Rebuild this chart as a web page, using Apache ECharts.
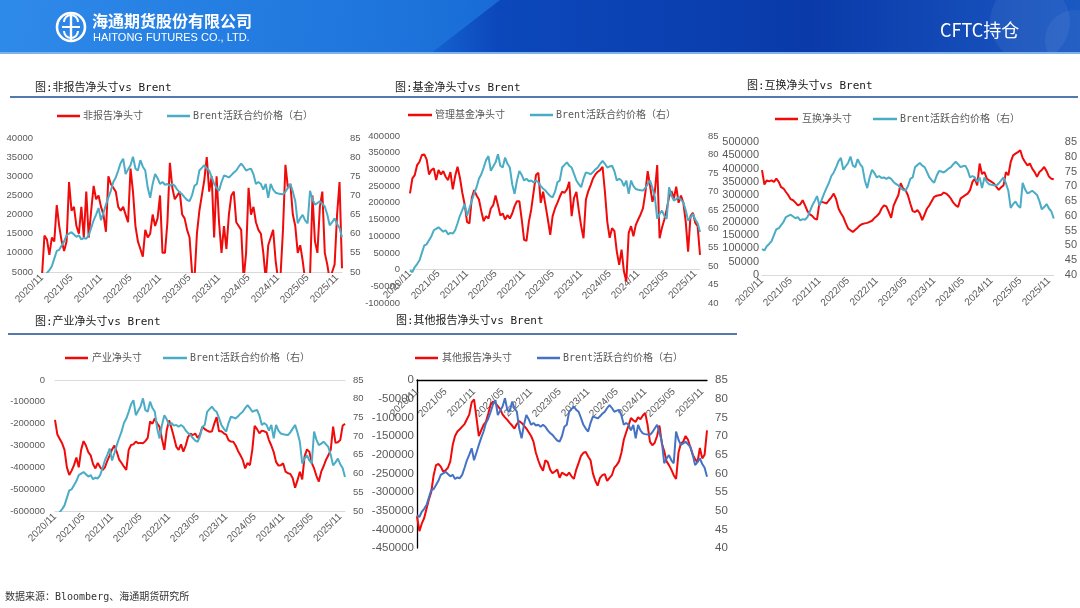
<!DOCTYPE html>
<html><head><meta charset="utf-8">
<script src="https://cdn.jsdelivr.net/npm/echarts@6/dist/echarts.min.js"></script>
<style>html,body{margin:0;padding:0;background:#fff}#c{width:1080px;height:608px}</style>
</head><body><div id="c"></div>
<script>
// ---- categories (half-month steps) ----
const months = ['2020/11','2020/12',
 '2021/01','2021/02','2021/03','2021/04','2021/05','2021/06','2021/07','2021/08','2021/09','2021/10','2021/11','2021/12',
 '2022/01','2022/02','2022/03','2022/04','2022/05','2022/06','2022/07','2022/08','2022/09','2022/10','2022/11','2022/12',
 '2023/01','2023/02','2023/03','2023/04','2023/05','2023/06','2023/07','2023/08','2023/09','2023/10','2023/11','2023/12',
 '2024/01','2024/02','2024/03','2024/04','2024/05','2024/06','2024/07','2024/08','2024/09','2024/10','2024/11','2024/12',
 '2025/01','2025/02','2025/03','2025/04','2025/05','2025/06','2025/07','2025/08','2025/09','2025/10','2025/11','2025/12'];

// ---- Brent active contract price (right axis) ----
const brent = [48.8,48.3,49.7,50.5,51.5,53.5,55.5,55.8,56.9,58,
 59.6,60,60.4,59.8,59.2,59.6,58.5,58.9,58.7,59.6,
 61.5,63.5,65,66.7,63.5,65.5,67.6,69.5,71.2,73.5,
 74.7,76.5,78.5,79.6,75.6,76.8,77.9,80.1,77,76.5,
 79.2,77.5,76.5,72,69.4,73,75.6,74.5,73,73.5,
 72.8,73,72.5,73,72.5,71.5,70.8,70.3,69.5,68.8,
 68.5,70,72.5,73,76.5,77.2,77.9,77,76.5,74.8,
 73,72,71.2,73.5,75.2,75,74.7,75.3,76,76.5,
 77.5,78.3,77.5,76.5,76.8,77,75.5,73,73.5,73,
 71.5,73,69.4,73,71.5,70.7,70.5,70.4,70.3,71,
 72,73,71,68.5,62.7,64,64.9,63.5,62.7,71.2,
 69,67.6,68,68.5,67.8,67.1,65,62.2,63,64,
 62.5,61.5,59.1];

// ---- net positions, in thousand contracts ----
const nonReportK = [4,14.5,13.5,9.5,14,13,22.5,17,13,10.5,
 13,28.5,21,22,17,15,22,14,26,14,
 21,27.5,24,25,22,20,15.5,30,28,27,
 26,22,21,22,20,18,32,26,17,13,
 11,9,16,14,15,20,17,19,25,10,
 10,18,33.5,27,24,25,26,20,19,16,
 14,5,3,15,21,25,29,35,26,30,
 14,30,18,10,17,11,20,25,26,18,
 17,16,3,10,27,20,22,18,16,15,
 10,3,12,14,16,8,3,4,16,33,
 27,28,20,17,10,12,8,3,3,4,
 25,13,10,22,26,10,7,3,5,7,
 20,28.5,6];

const managedMoneyK = [228,273,283,313,323,343,345,330,285,298,
 303,268,298,285,295,278,268,292,240,280,
 308,275,230,195,143,138,215,238,222,210,
 175,145,160,153,183,193,222,193,162,168,
 150,163,153,168,190,205,205,150,89,86,
 143,180,233,283,290,200,233,193,150,104,
 160,183,200,218,233,230,240,263,160,215,
 233,178,130,94,210,235,253,273,285,293,
 298,308,233,143,95,124,115,54,14,60,
 -6,-35,110,130,100,134,150,165,183,230,
 295,250,203,233,313,94,125,150,180,218,
 235,213,248,200,222,200,143,54,160,170,
 140,130,44];

const swapK = [394,340,356,352,356,350,362,350,330,325,
 312,300,285,281,272,262,266,281,262,240,
 228,222,212,208,270,275,272,269,281,292,
 306,285,250,232,218,195,175,168,162,170,
 178,187,192,194,196,200,204,214,222,231,
 250,262,258,237,215,260,281,300,345,325,
 319,300,269,240,237,244,231,206,228,250,
 262,278,294,298,300,302,310,306,298,287,
 272,262,256,287,294,300,306,319,350,362,
 337,419,380,387,362,356,350,344,331,320,
 330,337,387,375,425,450,456,462,469,440,
 425,412,419,400,387,369,387,395,406,390,
 370,362,360];

const producerK = [-183,-250,-270,-290,-320,-400,-435,-415,-390,-355,
 -400,-320,-280,-300,-330,-345,-385,-405,-380,-400,
 -412,-400,-370,-345,-318,-300,-330,-365,-380,-397,
 -412,-320,-298,-295,-282,-290,-288,-290,-280,-265,
 -190,-200,-176,-200,-215,-270,-320,-230,-185,-220,
 -260,-305,-320,-295,-328,-300,-260,-246,-252,-245,
 -265,-250,-214,-225,-232,-237,-236,-200,-170,-235,
 -235,-244,-250,-275,-282,-283,-300,-325,-345,-366,
 -405,-380,-390,-320,-210,-225,-244,-232,-235,-240,
 -275,-300,-330,-375,-392,-390,-382,-420,-427,-430,
 -450,-493,-460,-420,-455,-350,-318,-328,-380,-405,
 -440,-465,-420,-395,-366,-345,-320,-214,-288,-285,
 -275,-210,-200];

const otherReportK = [-365,-405,-385,-370,-345,-320,-300,-255,-228,-225,
 -232,-245,-242,-235,-218,-175,-150,-138,-132,-125,
 -118,-105,-92,-60,-52,-100,-150,-135,-120,-112,
 -90,-65,-58,-62,-70,-78,-92,-100,-107,-115,
 -122,-130,-118,-110,-115,-122,-130,-140,-150,-165,
 -195,-215,-232,-243,-215,-220,-240,-250,-245,-240,
 -262,-248,-252,-256,-248,-258,-265,-240,-222,-203,
 -195,-193,-205,-215,-250,-270,-283,-262,-255,-252,
 -270,-262,-255,-235,-228,-218,-195,-160,-140,-122,
 -102,-108,-112,-100,-105,-95,-88,-120,-165,-175,
 -168,-150,-122,-170,-190,-218,-228,-240,-255,-265,
 -195,-170,-165,-150,-160,-180,-200,-212,-220,-182,
 -210,-200,-135];

// ---- texts ----
const panelTitles = ['图:非报告净头寸vs Brent','图:基金净头寸vs Brent','图:互换净头寸vs Brent','图:产业净头寸vs Brent','图:其他报告净头寸vs Brent'];
const posNames = ['非报告净头寸','管理基金净头寸','互换净头寸','产业净头寸','其他报告净头寸'];
const brentName = 'Brent活跃合约价格（右）';
const leftAxes = [[5000,40000,5000],[-100000,400000,50000],[0,500000,50000],[-600000,0,100000],[-450000,0,50000]];
const rightAxes = [[50,85,5],[40,85,5],[40,85,5],[50,85,5],[40,85,5]];
const positions = [nonReportK, managedMoneyK, swapK, producerK, otherReportK];

const dates = [];
months.forEach((m,k)=>{ dates.push(m+'-1'); if(k<months.length-1) dates.push(m+'-2'); });

// ---- layout ----
const grids = [
  {left:42, top:138, width:300, height:134},
  {left:410, top:136, width:290, height:167},
  {left:762, top:142, width:295, height:133},
  {left:55, top:380, width:290, height:131},
  {left:417, top:380, width:290, height:168},
  {left:410, top:136, width:290, height:132},  // label carrier: panel 2 axis crosses at 0
  {left:417, top:370, width:290, height:10}    // label carrier: panel 5 axis crosses at 0 (top)
];
const yLabelSize = [9.5,9.5,11,9.5,11.5];
const yLabelMarginL = [9,10,3,10,3];
const RED = '#f00a0a', TEAL = '#4bacc6', BLUE = '#4472c4';
const numFont = "'Liberation Sans','Noto Sans',sans-serif";
const cjkFont = "'DejaVu Sans Mono','Noto Sans CJK SC',monospace";
const xLabel = {interval:11, rotate:45, fontSize:10, color:'#595959', fontFamily:numFont, margin:4, formatter:v=>v.slice(0,7)};

const xAxes = [], yAxes = [], series = [];
for (let k=0;k<5;k++){
  const ax = {type:'category', gridIndex:k, data:dates, boundaryGap:false,
    axisTick:{show:false},
    axisLine:{show:true, onZero:(k===1||k===2), lineStyle:{color:k===4?'#000':'#d9d9d9', width:k===4?1.3:1}},
    axisLabel:Object.assign({}, xLabel)};
  if (k===1) ax.axisLabel.show = false;
  if (k===4) { ax.position = 'top'; ax.axisLabel.show = false; }
  xAxes.push(ax);
  yAxes.push({type:'value', gridIndex:k, position:'left', min:leftAxes[k][0], max:leftAxes[k][1], interval:leftAxes[k][2],
    splitLine:{show:false}, axisTick:{show:false},
    axisLine:{show:k===4, onZero:false, lineStyle:{color:'#000', width:1.3}},
    axisLabel:{fontSize:yLabelSize[k], color:'#595959', fontFamily:numFont, margin:yLabelMarginL[k], formatter:v=>String(v)}});
  yAxes.push({type:'value', gridIndex:k, position:'right', min:rightAxes[k][0], max:rightAxes[k][1], interval:rightAxes[k][2],
    splitLine:{show:false}, axisTick:{show:false}, axisLine:{show:false},
    axisLabel:{fontSize:yLabelSize[k], color:'#595959', fontFamily:numFont, margin:k===2?11:8, formatter:v=>String(v)}});
  series.push({name:posNames[k], type:'line', xAxisIndex:k, yAxisIndex:2*k, data:positions[k].map(v=>v*1000),
    symbol:'none', lineStyle:{color:RED, width:2}, itemStyle:{color:RED}, z:2, clip:true});
  series.push({name:brentName, type:'line', xAxisIndex:k, yAxisIndex:2*k+1, data:brent,
    symbol:'none', lineStyle:{color:k===4?BLUE:TEAL, width:2}, itemStyle:{color:k===4?BLUE:TEAL}, z:3, clip:true});
}
// xAxis 5: top zero line for producer panel
xAxes.push({type:'category', gridIndex:3, data:dates, boundaryGap:false, position:'top',
  axisTick:{show:false}, axisLabel:{show:false}, axisLine:{show:true, onZero:false, lineStyle:{color:'#d9d9d9'}}});
// xAxis 6 / yAxis 10: labels of panel 2 sitting on its zero line
xAxes.push({type:'category', gridIndex:5, data:dates, boundaryGap:false, axisTick:{show:false},
  axisLine:{show:false, onZero:false}, axisLabel:Object.assign({}, xLabel)});
yAxes.push({type:'value', gridIndex:5, show:false, min:0, max:1});
// xAxis 7 / yAxis 11: labels of panel 5 just under its top zero line
xAxes.push({type:'category', gridIndex:6, data:dates, boundaryGap:false, axisTick:{show:false},
  axisLine:{show:false, onZero:false}, axisLabel:Object.assign({}, xLabel, {margin:10})});
yAxes.push({type:'value', gridIndex:6, show:false, min:0, max:1});

// ---- graphics ----
function txt(x,y,text,size,color,family,weight,align){
  return {type:'text', x:x, y:y, silent:true, z:100,
    style:{text:text, fill:color, fontSize:size, fontFamily:family, fontWeight:weight||'normal', align:align||'left', verticalAlign:'middle'}};
}
function seg(x1,y1,x2,y2,color,w){
  return {type:'line', silent:true, z:90, shape:{x1:x1,y1:y1,x2:x2,y2:y2}, style:{stroke:color, lineWidth:w}};
}
const titlePos = [[35,88],[395,88],[747,86],[35,322],[396,321]];
const legendPos = [
  {y:116, r:[57,80], rt:83, b:[167,190], bt:193},
  {y:115, r:[408,432], rt:435, b:[530,553], bt:556},
  {y:119, r:[775,798], rt:802, b:[873,897], bt:900},
  {y:358, r:[65,88], rt:92, b:[163,187], bt:190},
  {y:358, r:[415,438], rt:442, b:[537,560], bt:563}
];
const graphics = [
  {type:'rect', silent:true, z:1, shape:{x:0,y:0,width:1080,height:54},
    style:{fill:{type:'linear',x:0,y:0,x2:1,y2:0,colorStops:[
      {offset:0,color:'#2a84e6'},{offset:0.38,color:'#176bd6'},{offset:0.46,color:'#0c48bb'},
      {offset:0.75,color:'#0a3aa9'},{offset:1,color:'#1a58c2'}]}}},
  {type:'polygon', silent:true, z:2, shape:{points:[[0,0],[500,0],[430,54],[0,54]]},
    style:{fill:{type:'linear',x:0,y:0,x2:1,y2:1,colorStops:[{offset:0,color:'#2f8bea'},{offset:1,color:'#1a6fd8'}]}, opacity:0.9}},
  {type:'circle', silent:true, z:3, shape:{cx:1030,cy:22,r:40}, style:{fill:'rgba(255,255,255,0.06)'}},
  {type:'circle', silent:true, z:3, shape:{cx:1075,cy:40,r:30}, style:{fill:'rgba(255,255,255,0.05)'}},
  {type:'rect', silent:true, z:3, shape:{x:0,y:52,width:1080,height:2}, style:{fill:'#7fb2ec'}},
  {type:'circle', silent:true, z:5, shape:{cx:71,cy:27,r:14}, style:{fill:'none', stroke:'#fff', lineWidth:2.6}},
  {type:'line', silent:true, z:5, shape:{x1:71,y1:14,x2:71,y2:40}, style:{stroke:'#fff', lineWidth:2.4}},
  {type:'arc', silent:true, z:5, shape:{cx:71,cy:22,r:7,startAngle:Math.PI,endAngle:2*Math.PI}, style:{fill:'none', stroke:'#fff', lineWidth:2}},
  {type:'arc', silent:true, z:5, shape:{cx:71,cy:31,r:7,startAngle:0,endAngle:Math.PI}, style:{fill:'none', stroke:'#fff', lineWidth:2}},
  {type:'line', silent:true, z:5, shape:{x1:62,y1:27,x2:80,y2:27}, style:{stroke:'#fff', lineWidth:2}},
  txt(92,21,'海通期货股份有限公司',16,'#fff',"'Noto Sans CJK SC'",'bold'),
  txt(93,38,'HAITONG FUTURES CO., LTD.',11,'#fff',"'Liberation Sans Narrow','Liberation Sans',sans-serif"),
  txt(940,30,'CFTC持仓',18,'#fff',"'Liberation Sans Narrow','Noto Sans CJK SC',sans-serif"),
  seg(10,97,1078,97,'#5479b0',2),
  seg(8,334,737,334,'#5479b0',2),
  txt(5,597,'数据来源：Bloomberg、海通期货研究所',10,'#333',cjkFont)
];
for (let k=0;k<5;k++){
  graphics.push(txt(titlePos[k][0], titlePos[k][1], panelTitles[k], 11, '#1a1a1a', cjkFont));
  const L = legendPos[k];
  graphics.push(seg(L.r[0], L.y, L.r[1], L.y, RED, 2.5));
  graphics.push(txt(L.rt, L.y, posNames[k], 10, '#595959', cjkFont));
  graphics.push(seg(L.b[0], L.y, L.b[1], L.y, k===4?BLUE:TEAL, 2.5));
  graphics.push(txt(L.bt, L.y, brentName, 10, '#595959', cjkFont));
}

const chart = echarts.init(document.getElementById('c'), null, {renderer:'canvas'});
chart.setOption({
  animation:false,
  backgroundColor:'#ffffff',
  grid:grids,
  xAxis:xAxes,
  yAxis:yAxes,
  series:series,
  graphic:graphics
});
</script>
</body></html>
